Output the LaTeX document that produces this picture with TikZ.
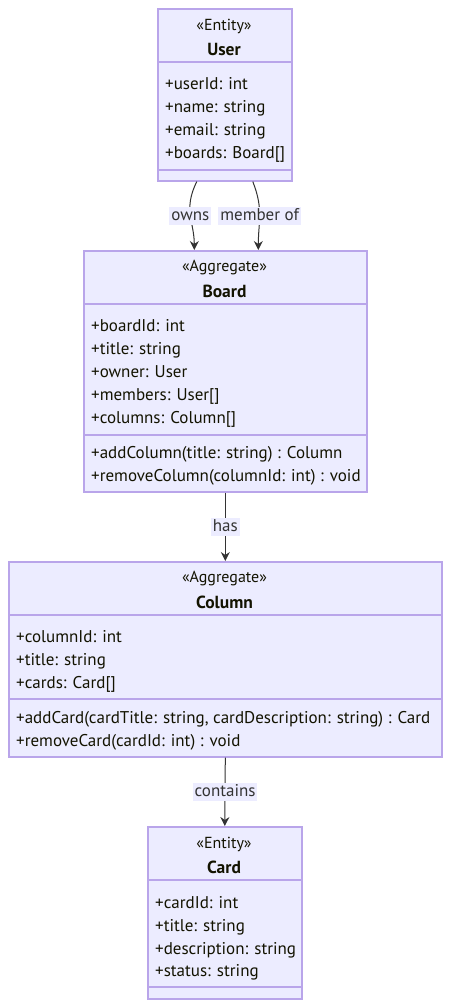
\documentclass[tikz,border=0pt]{standalone}
\usepackage{fontspec}
\setmainfont{PT Sans}
\usepackage{xcolor}
\usetikzlibrary{arrows.meta, positioning, calc}

\definecolor{boxfill}{HTML}{ECECFF}
\definecolor{boxline}{HTML}{B9A5EA}
\definecolor{classtext}{HTML}{131300}
\definecolor{edgeline}{HTML}{333333}

\tikzset{
  classbox/.style={rectangle, draw=boxline, fill=boxfill, line width=1.6pt, anchor=north west, inner sep=0pt},
  divider/.style={draw=boxline, line width=1.6pt},
  stereo/.style={text=classtext, inner sep=0pt, font=\fontsize{16}{18}\selectfont},
  cname/.style={text=classtext, inner sep=0pt, font=\fontsize{17.5}{20}\selectfont\bfseries},
  member/.style={text=classtext, anchor=west, inner sep=0pt, text height=13pt, text depth=1pt, font=\fontsize{17}{20}\selectfont},
  elabel/.style={fill=boxfill, text=edgeline, inner sep=2pt, text height=12pt, text depth=2pt, font=\fontsize{17}{20}\selectfont},
  dep/.style={-{Stealth[length=9pt, width=9pt, inset=3pt]}, draw=edgeline, line width=1pt},
}

\begin{document}
\begin{tikzpicture}[x=1pt, y=-1pt]
      \useasboundingbox (0,0) rectangle (449,1007);

      % User
      \node[classbox, minimum width=134pt, minimum height=172pt] (user) at (157,8) {};
      \draw[divider] (157,62) -- (291,62);
      \draw[divider] (157,170) -- (291,170);
      \node[stereo] (userStereo) at (224,26) {«Entity»};
      \node[cname] (userName) at (224,49) {User};
      \node[member] (u1) at (165,83) {+userId: int};
      \node[member] (u2) at (165,106) {+name: string};
      \node[member] (u3) at (165,129) {+email: string};
      \node[member] (u4) at (165,152) {+boards: Board[]};

      % Board
      \node[classbox, minimum width=283pt, minimum height=241pt] (board) at (83,250) {};
      \draw[divider] (83,304) -- (366,304);
      \draw[divider] (83,435) -- (366,435);
      \node[stereo] (boardStereo) at (224.5,268) {«Aggregate»};
      \node[cname] (boardName) at (224.5,291) {Board};
      \node[member] (b1) at (91,325) {+boardId: int};
      \node[member] (b2) at (91,348) {+title: string};
      \node[member] (b3) at (91,371) {+owner: User};
      \node[member] (b4) at (91,394) {+members: User[]};
      \node[member] (b5) at (91,417) {+columns: Column[]};
      \node[member] (b6) at (91,452) {+addColumn(title: string) : Column};
      \node[member] (b7) at (91,475) {+removeColumn(columnId: int) : void};

      % Column
      \node[classbox, minimum width=433pt, minimum height=195pt] (column) at (8,561) {};
      \draw[divider] (8,615) -- (441,615);
      \draw[divider] (8,699) -- (441,699);
      \node[stereo] (columnStereo) at (224.5,579) {«Aggregate»};
      \node[cname] (columnName) at (224.5,602) {Column};
      \node[member] (c1) at (16,636) {+columnId: int};
      \node[member] (c2) at (16,659) {+title: string};
      \node[member] (c3) at (16,682) {+cards: Card[]};
      \node[member] (c4) at (16,717) {+addCard(cardTitle: string, cardDescription: string) : Card};
      \node[member] (c5) at (16,740) {+removeCard(cardId: int) : void};

      % Card
      \node[classbox, minimum width=154pt, minimum height=172pt] (card) at (147,826) {};
      \draw[divider] (147,880) -- (301,880);
      \draw[divider] (147,987) -- (301,987);
      \node[stereo] (cardStereo) at (224,844) {«Entity»};
      \node[cname] (cardName) at (224,867) {Card};
      \node[member] (k1) at (155,902) {+cardId: int};
      \node[member] (k2) at (155,925) {+title: string};
      \node[member] (k3) at (155,948) {+description: string};
      \node[member] (k4) at (155,970) {+status: string};

      % relations
      \draw[dep] ([xshift=-28pt]user.south) .. controls +(-14,28) and +(0,-28) .. node[elabel] (owns) {owns} ([xshift=-31pt]board.north);
      \draw[dep] ([xshift=28pt]user.south) .. controls +(11,28) and +(0,-28) .. node[elabel] (memberOf) {member of} ([xshift=33pt]board.north);
      \draw[dep] (board.south) -- node[elabel] (has) {has} (column.north);
      \draw[dep] (column.south) -- node[elabel] (contains) {contains} (card.north);

    \end{tikzpicture}
\end{document}
